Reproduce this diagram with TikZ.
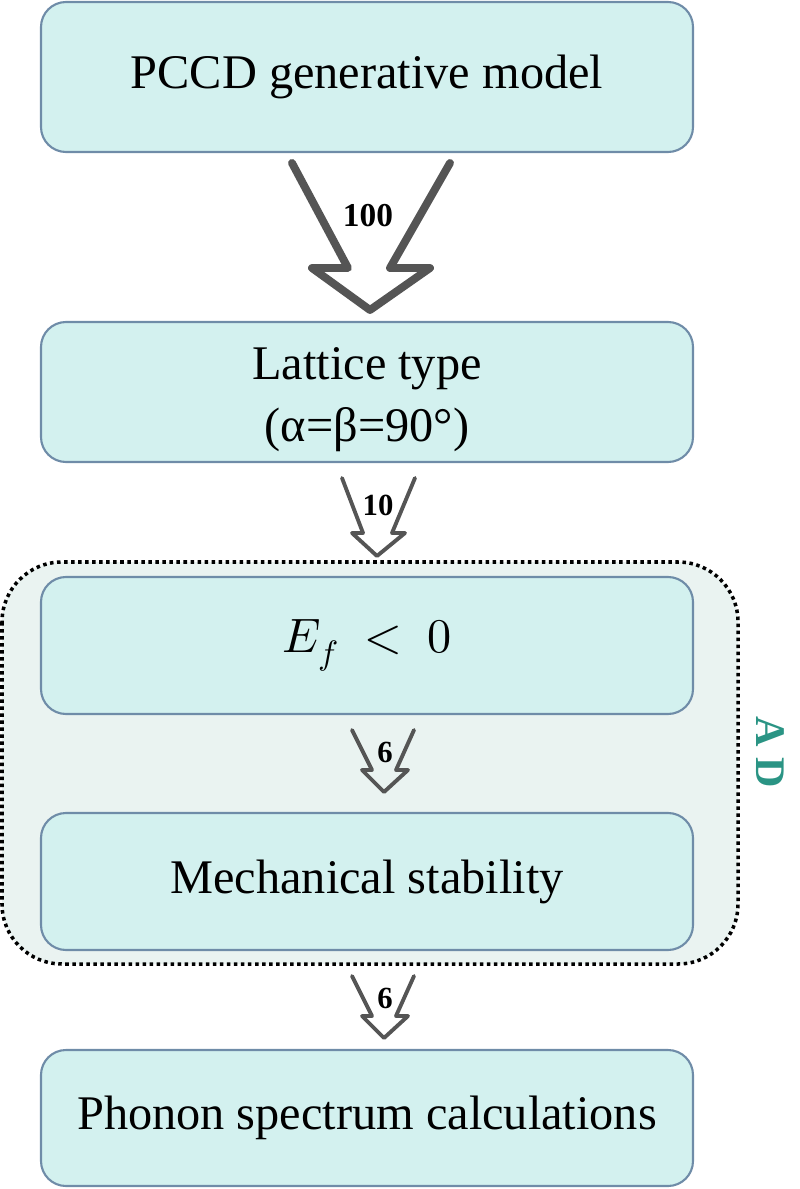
\documentclass[tikz,border=0pt]{standalone}
\usepackage{fontspec}
\setmainfont{Liberation Serif}
\usepackage{unicode-math}
\setmathfont{Latin Modern Math}
\begin{document}
\begin{tikzpicture}[x=0.02cm,y=-0.02cm,
  box/.style={draw=boxline,line width=1.2pt,fill=boxfill,rounded corners=0.5cm,inner sep=0pt},
  lbl/.style={font=\fontsize{27.5}{35}\selectfont,align=center},
  arr/.style={draw=arrgray,line join=round,line cap=round},
  num/.style={font=\bfseries\fontsize{17.5}{20}\selectfont}]
\definecolor{boxfill}{HTML}{D3F1EF}
\definecolor{boxline}{HTML}{6F8CA8}
\definecolor{adfill}{HTML}{EAF3F1}
\definecolor{arrgray}{HTML}{555555}
\definecolor{teal}{HTML}{2A9484}
\useasboundingbox (0,0) rectangle (800,1189);
\draw[fill=adfill,dotted,line width=2pt,rounded corners=1.2cm] (2,562) rectangle (738,964);
\path[box] (41,2) rectangle (693,152) node[midway,lbl] (b1) {PCCD generative model};
\path[box] (41,322) rectangle (693,462) node[midway,lbl,yshift=-0.15cm] (b2) {Lattice type\\(α=β=90°)};
\path[box] (41,577) rectangle (693,714) node[midway,lbl] (b3) {$E_f\ <\ 0$};
\path[box] (41,813) rectangle (693,950) node[midway,lbl] (b4) {Mechanical stability};
\path[box] (41,1050) rectangle (693,1186) node[midway,lbl] (b5) {Phonon spectrum calculations};
% big arrow
\draw[arr,line width=4.5pt] (292,163) -- (348,268) -- (312,268) -- (370,310) -- (430,268) -- (390,268) -- (450,163);
\node[font=\bfseries\fontsize{19}{22}\selectfont] (n1) at (368,216) {100};
% arrow 10
\draw[arr,line width=2.2pt] (342,478) -- (363,533) -- (352,533) -- (377,556) -- (405,533) -- (392,533) -- (415,478);
\node[num] (n2) at (378,505) {10};
\draw[arr,line width=2.2pt] (352,730) -- (372,770) -- (362,770) -- (384,792) -- (408,770) -- (396,770) -- (414,730);
\node[num] (n3) at (385,752) {6};
\draw[arr,line width=2.2pt] (352,976) -- (372,1016) -- (362,1016) -- (384,1038) -- (408,1016) -- (396,1016) -- (414,976);
\node[num] (n4) at (385,998) {6};
\node[rotate=-90,text=teal,font=\bfseries\fontsize{24}{26}\selectfont] (ad) at (770,752) {A D};
\end{tikzpicture}
\end{document}
